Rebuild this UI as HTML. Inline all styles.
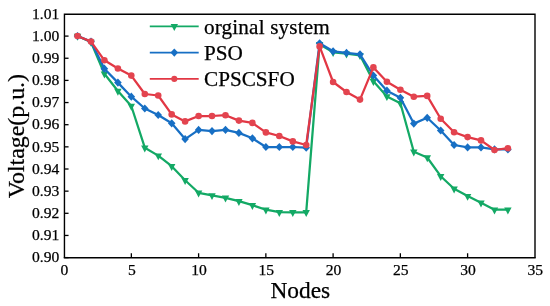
<!DOCTYPE html><html><head><meta charset="utf-8"><title>Voltage profile</title><style>html,body{margin:0;padding:0;background:#fff}svg{display:block}text{font-family:"Liberation Serif","Times New Roman",serif;fill:#000;stroke:#000;stroke-width:0.25px}</style></head><body>
<svg width="550" height="306" viewBox="0 0 550 306">
<rect width="550" height="306" fill="#fff"/>
<polyline points="77.5,36.0 91.0,42.0 104.4,73.8 117.9,91.0 131.3,106.0 144.8,147.7 158.2,155.6 171.7,166.2 185.1,180.2 198.6,192.8 212.0,195.4 225.5,197.8 238.9,201.2 252.4,205.2 265.9,209.7 279.3,212.2 292.8,212.3 306.2,212.3 319.6,44.3 333.1,52.3 346.5,53.7 360.0,55.3 373.4,81.2 386.9,96.4 400.4,103.3 413.8,151.7 427.2,157.5 440.7,176.2 454.1,188.7 467.6,196.1 481.0,202.7 494.5,209.7 507.9,209.7" fill="none" stroke="#13a965" stroke-width="2.25" stroke-linejoin="round"/>
<path d="M73.8,33.8 h7.4 l-3.7,6.9 z" fill="#13a965"/>
<path d="M87.3,39.8 h7.4 l-3.7,6.9 z" fill="#13a965"/>
<path d="M100.7,71.6 h7.4 l-3.7,6.9 z" fill="#13a965"/>
<path d="M114.2,88.8 h7.4 l-3.7,6.9 z" fill="#13a965"/>
<path d="M127.6,103.8 h7.4 l-3.7,6.9 z" fill="#13a965"/>
<path d="M141.1,145.5 h7.4 l-3.7,6.9 z" fill="#13a965"/>
<path d="M154.6,153.4 h7.4 l-3.7,6.9 z" fill="#13a965"/>
<path d="M168.0,164.0 h7.4 l-3.7,6.9 z" fill="#13a965"/>
<path d="M181.4,178.0 h7.4 l-3.7,6.9 z" fill="#13a965"/>
<path d="M194.9,190.6 h7.4 l-3.7,6.9 z" fill="#13a965"/>
<path d="M208.3,193.2 h7.4 l-3.7,6.9 z" fill="#13a965"/>
<path d="M221.8,195.6 h7.4 l-3.7,6.9 z" fill="#13a965"/>
<path d="M235.2,199.0 h7.4 l-3.7,6.9 z" fill="#13a965"/>
<path d="M248.7,203.0 h7.4 l-3.7,6.9 z" fill="#13a965"/>
<path d="M262.2,207.5 h7.4 l-3.7,6.9 z" fill="#13a965"/>
<path d="M275.6,210.0 h7.4 l-3.7,6.9 z" fill="#13a965"/>
<path d="M289.1,210.1 h7.4 l-3.7,6.9 z" fill="#13a965"/>
<path d="M302.5,210.1 h7.4 l-3.7,6.9 z" fill="#13a965"/>
<path d="M315.9,42.1 h7.4 l-3.7,6.9 z" fill="#13a965"/>
<path d="M329.4,50.1 h7.4 l-3.7,6.9 z" fill="#13a965"/>
<path d="M342.8,51.5 h7.4 l-3.7,6.9 z" fill="#13a965"/>
<path d="M356.3,53.1 h7.4 l-3.7,6.9 z" fill="#13a965"/>
<path d="M369.7,79.0 h7.4 l-3.7,6.9 z" fill="#13a965"/>
<path d="M383.2,94.2 h7.4 l-3.7,6.9 z" fill="#13a965"/>
<path d="M396.7,101.1 h7.4 l-3.7,6.9 z" fill="#13a965"/>
<path d="M410.1,149.5 h7.4 l-3.7,6.9 z" fill="#13a965"/>
<path d="M423.6,155.3 h7.4 l-3.7,6.9 z" fill="#13a965"/>
<path d="M437.0,174.0 h7.4 l-3.7,6.9 z" fill="#13a965"/>
<path d="M450.4,186.5 h7.4 l-3.7,6.9 z" fill="#13a965"/>
<path d="M463.9,193.9 h7.4 l-3.7,6.9 z" fill="#13a965"/>
<path d="M477.3,200.5 h7.4 l-3.7,6.9 z" fill="#13a965"/>
<path d="M490.8,207.5 h7.4 l-3.7,6.9 z" fill="#13a965"/>
<path d="M504.2,207.5 h7.4 l-3.7,6.9 z" fill="#13a965"/>
<polyline points="77.5,36.0 91.0,41.6 104.4,68.7 117.9,82.6 131.3,96.7 144.8,108.5 158.2,115.0 171.7,123.3 185.1,139.1 198.6,129.9 212.0,131.1 225.5,129.8 238.9,132.9 252.4,138.3 265.9,147.0 279.3,147.0 292.8,147.0 306.2,147.7 319.6,43.3 333.1,51.3 346.5,52.9 360.0,54.3 373.4,75.5 386.9,90.7 400.4,97.8 413.8,123.6 427.2,117.8 440.7,130.5 454.1,145.0 467.6,147.4 481.0,147.4 494.5,149.4 507.9,149.4" fill="none" stroke="#176fc4" stroke-width="2.25" stroke-linejoin="round"/>
<path d="M77.5,31.9 l3.8,4.1 l-3.8,4.1 l-3.8,-4.1 z" fill="#176fc4"/>
<path d="M91.0,37.5 l3.8,4.1 l-3.8,4.1 l-3.8,-4.1 z" fill="#176fc4"/>
<path d="M104.4,64.6 l3.8,4.1 l-3.8,4.1 l-3.8,-4.1 z" fill="#176fc4"/>
<path d="M117.9,78.5 l3.8,4.1 l-3.8,4.1 l-3.8,-4.1 z" fill="#176fc4"/>
<path d="M131.3,92.6 l3.8,4.1 l-3.8,4.1 l-3.8,-4.1 z" fill="#176fc4"/>
<path d="M144.8,104.4 l3.8,4.1 l-3.8,4.1 l-3.8,-4.1 z" fill="#176fc4"/>
<path d="M158.2,110.9 l3.8,4.1 l-3.8,4.1 l-3.8,-4.1 z" fill="#176fc4"/>
<path d="M171.7,119.2 l3.8,4.1 l-3.8,4.1 l-3.8,-4.1 z" fill="#176fc4"/>
<path d="M185.1,135.0 l3.8,4.1 l-3.8,4.1 l-3.8,-4.1 z" fill="#176fc4"/>
<path d="M198.6,125.8 l3.8,4.1 l-3.8,4.1 l-3.8,-4.1 z" fill="#176fc4"/>
<path d="M212.0,127.0 l3.8,4.1 l-3.8,4.1 l-3.8,-4.1 z" fill="#176fc4"/>
<path d="M225.5,125.7 l3.8,4.1 l-3.8,4.1 l-3.8,-4.1 z" fill="#176fc4"/>
<path d="M238.9,128.8 l3.8,4.1 l-3.8,4.1 l-3.8,-4.1 z" fill="#176fc4"/>
<path d="M252.4,134.2 l3.8,4.1 l-3.8,4.1 l-3.8,-4.1 z" fill="#176fc4"/>
<path d="M265.9,142.9 l3.8,4.1 l-3.8,4.1 l-3.8,-4.1 z" fill="#176fc4"/>
<path d="M279.3,142.9 l3.8,4.1 l-3.8,4.1 l-3.8,-4.1 z" fill="#176fc4"/>
<path d="M292.8,142.9 l3.8,4.1 l-3.8,4.1 l-3.8,-4.1 z" fill="#176fc4"/>
<path d="M306.2,143.6 l3.8,4.1 l-3.8,4.1 l-3.8,-4.1 z" fill="#176fc4"/>
<path d="M319.6,39.2 l3.8,4.1 l-3.8,4.1 l-3.8,-4.1 z" fill="#176fc4"/>
<path d="M333.1,47.2 l3.8,4.1 l-3.8,4.1 l-3.8,-4.1 z" fill="#176fc4"/>
<path d="M346.5,48.8 l3.8,4.1 l-3.8,4.1 l-3.8,-4.1 z" fill="#176fc4"/>
<path d="M360.0,50.2 l3.8,4.1 l-3.8,4.1 l-3.8,-4.1 z" fill="#176fc4"/>
<path d="M373.4,71.4 l3.8,4.1 l-3.8,4.1 l-3.8,-4.1 z" fill="#176fc4"/>
<path d="M386.9,86.6 l3.8,4.1 l-3.8,4.1 l-3.8,-4.1 z" fill="#176fc4"/>
<path d="M400.4,93.7 l3.8,4.1 l-3.8,4.1 l-3.8,-4.1 z" fill="#176fc4"/>
<path d="M413.8,119.5 l3.8,4.1 l-3.8,4.1 l-3.8,-4.1 z" fill="#176fc4"/>
<path d="M427.2,113.7 l3.8,4.1 l-3.8,4.1 l-3.8,-4.1 z" fill="#176fc4"/>
<path d="M440.7,126.4 l3.8,4.1 l-3.8,4.1 l-3.8,-4.1 z" fill="#176fc4"/>
<path d="M454.1,140.9 l3.8,4.1 l-3.8,4.1 l-3.8,-4.1 z" fill="#176fc4"/>
<path d="M467.6,143.3 l3.8,4.1 l-3.8,4.1 l-3.8,-4.1 z" fill="#176fc4"/>
<path d="M481.0,143.3 l3.8,4.1 l-3.8,4.1 l-3.8,-4.1 z" fill="#176fc4"/>
<path d="M494.5,145.3 l3.8,4.1 l-3.8,4.1 l-3.8,-4.1 z" fill="#176fc4"/>
<path d="M507.9,145.3 l3.8,4.1 l-3.8,4.1 l-3.8,-4.1 z" fill="#176fc4"/>
<polyline points="77.5,36.0 91.0,41.6 104.4,60.3 117.9,68.5 131.3,75.6 144.8,94.0 158.2,95.5 171.7,114.4 185.1,121.4 198.6,116.0 212.0,116.0 225.5,115.2 238.9,120.6 252.4,122.9 265.9,132.4 279.3,136.0 292.8,141.4 306.2,145.0 319.6,46.4 333.1,82.0 346.5,92.0 360.0,99.6 373.4,67.4 386.9,81.8 400.4,89.7 413.8,96.7 427.2,95.9 440.7,118.7 454.1,132.3 467.6,137.1 481.0,140.4 494.5,150.0 507.9,148.2" fill="none" stroke="#e23744" stroke-width="2.25" stroke-linejoin="round"/>
<circle cx="77.5" cy="36.0" r="3.3" fill="#e3444f"/>
<circle cx="91.0" cy="41.6" r="3.3" fill="#e3444f"/>
<circle cx="104.4" cy="60.3" r="3.3" fill="#e3444f"/>
<circle cx="117.9" cy="68.5" r="3.3" fill="#e3444f"/>
<circle cx="131.3" cy="75.6" r="3.3" fill="#e3444f"/>
<circle cx="144.8" cy="94.0" r="3.3" fill="#e3444f"/>
<circle cx="158.2" cy="95.5" r="3.3" fill="#e3444f"/>
<circle cx="171.7" cy="114.4" r="3.3" fill="#e3444f"/>
<circle cx="185.1" cy="121.4" r="3.3" fill="#e3444f"/>
<circle cx="198.6" cy="116.0" r="3.3" fill="#e3444f"/>
<circle cx="212.0" cy="116.0" r="3.3" fill="#e3444f"/>
<circle cx="225.5" cy="115.2" r="3.3" fill="#e3444f"/>
<circle cx="238.9" cy="120.6" r="3.3" fill="#e3444f"/>
<circle cx="252.4" cy="122.9" r="3.3" fill="#e3444f"/>
<circle cx="265.9" cy="132.4" r="3.3" fill="#e3444f"/>
<circle cx="279.3" cy="136.0" r="3.3" fill="#e3444f"/>
<circle cx="292.8" cy="141.4" r="3.3" fill="#e3444f"/>
<circle cx="306.2" cy="145.0" r="3.3" fill="#e3444f"/>
<circle cx="319.6" cy="46.4" r="3.3" fill="#e3444f"/>
<circle cx="333.1" cy="82.0" r="3.3" fill="#e3444f"/>
<circle cx="346.5" cy="92.0" r="3.3" fill="#e3444f"/>
<circle cx="360.0" cy="99.6" r="3.3" fill="#e3444f"/>
<circle cx="373.4" cy="67.4" r="3.3" fill="#e3444f"/>
<circle cx="386.9" cy="81.8" r="3.3" fill="#e3444f"/>
<circle cx="400.4" cy="89.7" r="3.3" fill="#e3444f"/>
<circle cx="413.8" cy="96.7" r="3.3" fill="#e3444f"/>
<circle cx="427.2" cy="95.9" r="3.3" fill="#e3444f"/>
<circle cx="440.7" cy="118.7" r="3.3" fill="#e3444f"/>
<circle cx="454.1" cy="132.3" r="3.3" fill="#e3444f"/>
<circle cx="467.6" cy="137.1" r="3.3" fill="#e3444f"/>
<circle cx="481.0" cy="140.4" r="3.3" fill="#e3444f"/>
<circle cx="494.5" cy="150.0" r="3.3" fill="#e3444f"/>
<circle cx="507.9" cy="148.2" r="3.3" fill="#e3444f"/>
<path d="M64.45,257.75 V14.25 H535.0 V257.75" fill="none" stroke="#000" stroke-width="1.4" stroke-linejoin="miter"/>
<line x1="63.75" x2="535.7" y1="257.75" y2="257.75" stroke="#000" stroke-width="1.6"/>
<line x1="64.45" x2="68.55" y1="36.10" y2="36.10" stroke="#000" stroke-width="1.3"/>
<line x1="64.45" x2="68.55" y1="58.25" y2="58.25" stroke="#000" stroke-width="1.3"/>
<line x1="64.45" x2="68.55" y1="80.40" y2="80.40" stroke="#000" stroke-width="1.3"/>
<line x1="64.45" x2="68.55" y1="102.55" y2="102.55" stroke="#000" stroke-width="1.3"/>
<line x1="64.45" x2="68.55" y1="124.70" y2="124.70" stroke="#000" stroke-width="1.3"/>
<line x1="64.45" x2="68.55" y1="146.85" y2="146.85" stroke="#000" stroke-width="1.3"/>
<line x1="64.45" x2="68.55" y1="169.00" y2="169.00" stroke="#000" stroke-width="1.3"/>
<line x1="64.45" x2="68.55" y1="191.15" y2="191.15" stroke="#000" stroke-width="1.3"/>
<line x1="64.45" x2="68.55" y1="213.30" y2="213.30" stroke="#000" stroke-width="1.3"/>
<line x1="64.45" x2="68.55" y1="235.45" y2="235.45" stroke="#000" stroke-width="1.3"/>
<line x1="64.45" x2="68.55" y1="257.60" y2="257.60" stroke="#000" stroke-width="1.3"/>
<line x1="131.35" x2="131.35" y1="257.75" y2="253.25" stroke="#000" stroke-width="1.3"/>
<line x1="198.60" x2="198.60" y1="257.75" y2="253.25" stroke="#000" stroke-width="1.3"/>
<line x1="265.85" x2="265.85" y1="257.75" y2="253.25" stroke="#000" stroke-width="1.3"/>
<line x1="333.10" x2="333.10" y1="257.75" y2="253.25" stroke="#000" stroke-width="1.3"/>
<line x1="400.35" x2="400.35" y1="257.75" y2="253.25" stroke="#000" stroke-width="1.3"/>
<line x1="467.60" x2="467.60" y1="257.75" y2="253.25" stroke="#000" stroke-width="1.3"/>
<text x="59.3" y="18.7" font-size="15.6" text-anchor="end">1.01</text>
<text x="59.3" y="40.8" font-size="15.6" text-anchor="end">1.00</text>
<text x="59.3" y="63.0" font-size="15.6" text-anchor="end">0.99</text>
<text x="59.3" y="85.1" font-size="15.6" text-anchor="end">0.98</text>
<text x="59.3" y="107.2" font-size="15.6" text-anchor="end">0.97</text>
<text x="59.3" y="129.4" font-size="15.6" text-anchor="end">0.96</text>
<text x="59.3" y="151.5" font-size="15.6" text-anchor="end">0.95</text>
<text x="59.3" y="173.7" font-size="15.6" text-anchor="end">0.94</text>
<text x="59.3" y="195.8" font-size="15.6" text-anchor="end">0.93</text>
<text x="59.3" y="218.0" font-size="15.6" text-anchor="end">0.92</text>
<text x="59.3" y="240.1" font-size="15.6" text-anchor="end">0.91</text>
<text x="59.3" y="262.3" font-size="15.6" text-anchor="end">0.90</text>
<text x="64.5" y="275.3" font-size="15.6" text-anchor="middle">0</text>
<text x="131.8" y="275.3" font-size="15.6" text-anchor="middle">5</text>
<text x="199.0" y="275.3" font-size="15.6" text-anchor="middle">10</text>
<text x="266.2" y="275.3" font-size="15.6" text-anchor="middle">15</text>
<text x="333.5" y="275.3" font-size="15.6" text-anchor="middle">20</text>
<text x="400.8" y="275.3" font-size="15.6" text-anchor="middle">25</text>
<text x="468.0" y="275.3" font-size="15.6" text-anchor="middle">30</text>
<text x="535.2" y="275.3" font-size="15.6" text-anchor="middle">35</text>
<text x="300.3" y="297.5" font-size="23.4" text-anchor="middle">Nodes</text>
<text transform="translate(23.8,136.1) rotate(-90)" font-size="23.9" text-anchor="middle">Voltage(p.u.)</text>
<line x1="149.8" x2="198.7" y1="26.3" y2="26.3" stroke="#13a965" stroke-width="1.75"/>
<path d="M170.6,24.1 h7.4 l-3.7,6.9 z" fill="#13a965"/>
<text x="204.0" y="33.7" font-size="21.2" letter-spacing="0.15">orginal system</text>
<line x1="149.8" x2="198.7" y1="52.6" y2="52.6" stroke="#176fc4" stroke-width="1.75"/>
<path d="M174.3,48.5 l3.8,4.1 l-3.8,4.1 l-3.8,-4.1 z" fill="#176fc4"/>
<text x="204.0" y="59.9" font-size="21.2">PSO</text>
<line x1="149.8" x2="198.7" y1="78.9" y2="78.9" stroke="#e23744" stroke-width="1.75"/>
<circle cx="174.3" cy="78.9" r="3.05" fill="#e3444f"/>
<text x="204.0" y="85.8" font-size="21.2">CPSCSFO</text>
</svg></body></html>
